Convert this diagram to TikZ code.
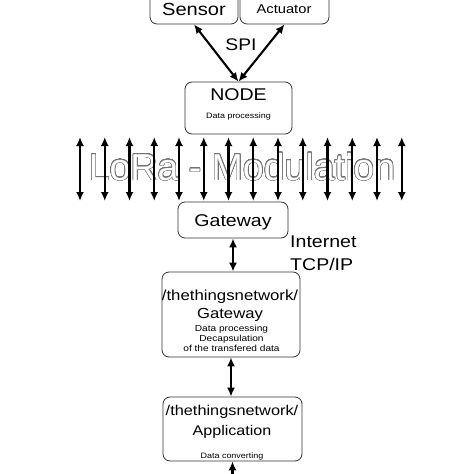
\documentclass[tikz,border=0pt]{standalone}
\usepackage{fontspec}
\setmainfont[FakeStretch=1.15]{Liberation Sans}
\newfontfamily\lorafont{Liberation Sans}
\usepackage{xcolor}
\usepackage{contour}
\usepackage{tikz}
\usetikzlibrary{arrows.meta,positioning}

\contourlength{0.55pt}
\contournumber{32}

\tikzset{
  box/.style={draw=black!80, line width=0.8pt, rounded corners=7pt, inner sep=0pt},
  link/.style={<->, line width=2.1pt},
  txt/.style={anchor=base, inner sep=0pt},
}

\begin{document}
\begin{tikzpicture}[x=1pt, y=-1pt, >={Latex[length=9pt,width=8pt]}]
    \clip (0,0) rectangle (474,474);
    \fill[white] (0,0) rectangle (474,474);
    % sensor / actuator
    \node[box, minimum width=88pt, minimum height=50pt] (sensor) at (194,-1) {};
    \node[box, minimum width=89pt, minimum height=50pt] (actuator) at (284.5,-1) {};
    \node[txt, font=\fontsize{17.5}{20}\selectfont] (sensortxt) at (194,15) {Sensor};
    \node[txt, font=\fontsize{12.8}{15}\selectfont] (actuatortxt) at (284,13.3) {Actuator};
    \node[txt, font=\fontsize{16.8}{20}\selectfont] (spi) at (241,50) {SPI};
    % node
    \node[box, minimum width=107pt, minimum height=52pt] (nodebox) at (238.5,108) {};
    \node[txt, font=\fontsize{17}{20}\selectfont] (nodetxt) at (238.5,100) {NODE};
    \node[txt, font=\fontsize{7.8}{9}\selectfont] (nodesub) at (238.5,118) {Data processing};
    \draw[link] (sensor.south) -- (nodebox.north);
    \draw[link] (actuator.south) -- (nodebox.north);
    % radio link
    \node[txt, font=\lorafont\fontsize{37.5}{40}\selectfont] (lora) at (242,180)
        {\contour{black!55}{\textcolor{white}{LoRa - Modulation}}};
    \foreach \i in {0,...,13} {
        \coordinate (up\i) at (80+24.75*\i,137);
        \coordinate (dn\i) at (80+24.75*\i,201);
        \draw[link] (up\i) -- (dn\i);
    }
    % gateway
    \node[box, minimum width=110pt, minimum height=36pt] (gateway) at (233,220) {};
    \node[txt, font=\fontsize{17}{20}\selectfont] (gatewaytxt) at (233,226.7) {Gateway};
    \node[txt, anchor=base west, font=\fontsize{17}{20}\selectfont] (internet) at (290,247.5) {Internet};
    \node[txt, anchor=base west, font=\fontsize{17}{20}\selectfont] (tcpip) at (290,270) {TCP/IP};
    % thethingsnetwork gateway
    \node[box, minimum width=138pt, minimum height=85pt] (ttngw) at (231,314.5) {};
    \node[txt, font=\fontsize{14.6}{17}\selectfont] (ttngwtop) at (230,300) {/thethingsnetwork/};
    \node[txt, font=\fontsize{14.5}{17}\selectfont] (ttngwtxt) at (230,318) {Gateway};
    \node[anchor=north, inner sep=0pt, align=center, font=\fontsize{8.8}{10}\selectfont] (ttngwsub) at (231.5,324.5)
        {Data processing\\Decapsulation\\of the transfered data};
    \draw[link] (gateway.south) -- (gateway.south |- ttngw.north);
    % thethingsnetwork application
    \node[box, minimum width=139pt, minimum height=64pt] (ttnapp) at (232.5,429) {};
    \node[txt, font=\fontsize{14.2}{17}\selectfont] (ttnapptop) at (232,415) {/thethingsnetwork/};
    \node[txt, font=\fontsize{14}{17}\selectfont] (ttnapptxt) at (232,435) {Application};
    \node[txt, font=\fontsize{7.8}{9}\selectfont] (ttnappsub) at (232,458.3) {Data converting};
    \draw[link] (ttngw.south) -- (ttngw.south |- ttnapp.north);
    \coordinate (below) at (232.5,500);
    \draw[link] (ttnapp.south) -- (below);
\end{tikzpicture}
\end{document}
